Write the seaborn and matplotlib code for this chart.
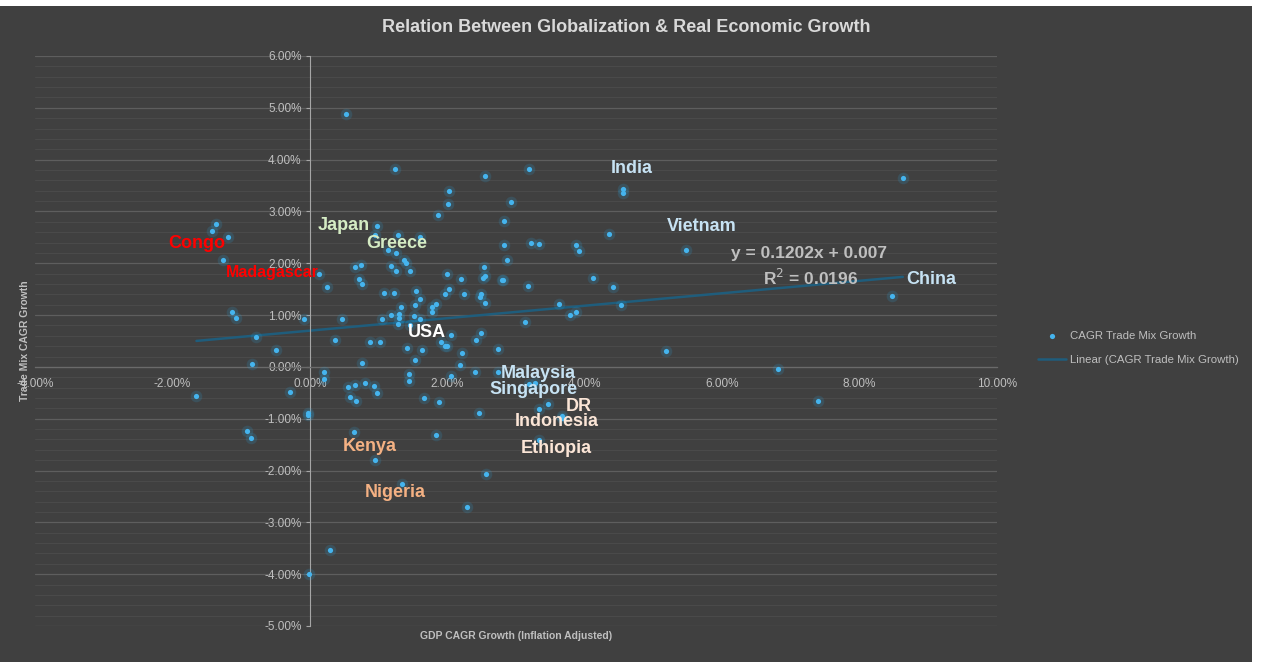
import numpy as np
import pandas as pd
import seaborn as sns
import matplotlib.pyplot as plt
from matplotlib.patches import Rectangle
from matplotlib.ticker import MultipleLocator, FuncFormatter

# === DATA (values in %) ===
gdp_cagr = [
    0.52, 1.24, 2.55, 3.19, 4.56, 4.56, 2.02, 2.01, 2.93, 1.86, 2.82, 8.63, 4.36, 5.47, 8.47,
    -1.43, -1.36, -1.19, -1.26, -1.14, -1.08, -0.78, -0.50, -0.84, -1.65, -0.29, -0.92, -0.86,
    0.98, 0.95, 1.28, 1.61, 1.14, 1.25, 1.37, 1.40, 0.66, 0.74, 1.18, 1.25, 1.46, 0.13, 0.25, 0.72,
    0.76, 1.55, 1.60, 1.08, 1.22, 1.33, 1.53, 1.78, 1.78, 1.84, 1.18, 1.30, 1.30, 1.52, 1.60, 1.05,
    0.47, -0.08, 1.28, 1.46, 0.37, 0.87, 1.02, 1.42, 1.63, 1.53, 0.76, 0.21, 0.20, 1.44, 1.44, 0.56,
    0.66, 0.80, 0.93, 0.98, 0.58, 0.67, 1.66, 1.88, -0.02, -0.02, 0.64, 1.84, 0.95, 1.34, 0.30, -0.01,
    3.22, 3.33, 2.82, 3.88, 3.91, 2.87, 2.53, 2.55, 2.52, 1.99, 2.20, 2.79, 2.81, 3.18, 4.12, 4.41,
    2.03, 1.96, 2.24, 2.49, 2.48, 2.55, 3.63, 3.79, 3.88, 4.53, 3.13, 2.06, 2.49, 2.42, 1.91, 1.97,
    2.00, 2.74, 2.21, 2.18, 2.05, 2.40, 2.74, 2.46, 3.19, 3.28, 3.34, 3.47, 3.67, 3.67, 3.34, 2.56,
    2.28, 5.18, 6.82, 7.39,
]
trade_mix_cagr = [
    4.89, 3.81, 3.69, 3.81, 3.43, 3.35, 3.40, 3.15, 3.19, 2.94, 2.81, 3.65, 2.57, 2.26, 1.36,
    2.63, 2.75, 2.50, 2.07, 1.05, 0.95, 0.57, 0.33, 0.06, -0.57, -0.48, -1.23, -1.37,
    2.71, 2.55, 2.55, 2.51, 2.26, 2.19, 2.06, 2.01, 1.92, 1.97, 1.94, 1.86, 1.86, 1.80, 1.55, 1.69,
    1.60, 1.47, 1.32, 1.43, 1.43, 1.16, 1.20, 1.15, 1.06, 1.22, 1.01, 1.03, 0.94, 0.99, 0.93, 0.93,
    0.93, 0.93, 0.82, 0.80, 0.51, 0.49, 0.49, 0.37, 0.33, 0.14, 0.08, -0.09, -0.23, -0.13, -0.28, -0.39,
    -0.35, -0.31, -0.37, -0.50, -0.58, -0.65, -0.60, -0.67, -0.89, -0.93, -1.25, -1.31, -1.79, -2.25, -3.53, -4.00,
    2.40, 2.38, 2.36, 2.36, 2.23, 2.07, 1.92, 1.76, 1.71, 1.80, 1.69, 1.67, 1.67, 1.57, 1.72, 1.55,
    1.51, 1.41, 1.40, 1.40, 1.34, 1.24, 1.22, 1.01, 1.05, 1.20, 0.86, 0.62, 0.66, 0.51, 0.49, 0.41,
    0.41, 0.35, 0.26, 0.03, -0.17, -0.09, -0.09, -0.88, -0.33, -0.32, -0.81, -0.71, -0.94, -0.98, -1.42, -2.06,
    -2.70, 0.31, -0.05, -0.66,
]

# trendline reported by the chart: y = 0.1202x + 0.007
TREND_SLOPE = 0.1202
TREND_INTERCEPT = 0.7  # in %
R_SQUARED = 0.0196

df = pd.DataFrame({"gdp": gdp_cagr, "trade": trade_mix_cagr})

# === Style ===
BG = "#404040"
TXT = "#bfbfbf"
PT = "#45b4ee"

sns.set_theme(style="dark")
plt.rcParams["font.family"] = ["Liberation Sans", "DejaVu Sans"]

W, H = 1262, 672
fig = plt.figure(figsize=(W / 100, H / 100), dpi=100)
fig.patch.set_facecolor("white")
fig.patches.append(Rectangle((0, 10 / H), 1252 / W, 656 / H, transform=fig.transFigure,
                             facecolor=BG, edgecolor="none", zorder=-10))

ax = fig.add_axes([35 / W, 46 / H, 962 / W, 570 / H])
ax.set_facecolor(BG)

# trendline
x_line = np.array([df["gdp"].min(), df["gdp"].max()])
trend = pd.DataFrame({"x": x_line, "y": TREND_SLOPE * x_line + TREND_INTERCEPT})

# glow + points
sns.scatterplot(data=df, x="gdp", y="trade", s=70, color="#2a9fd8", alpha=0.18,
                linewidth=0, legend=False, ax=ax, zorder=3)
sns.scatterplot(data=df, x="gdp", y="trade", s=14, color=PT, linewidth=0,
                label="CAGR Trade Mix Growth", ax=ax, zorder=4)
sns.lineplot(data=trend, x="x", y="y", color="#1f5d7c", linewidth=1.8,
             label="Linear (CAGR Trade Mix Growth)", ax=ax, zorder=2)

ax.set_xlim(-4, 10)
ax.set_ylim(-5, 6)
ax.xaxis.set_major_locator(MultipleLocator(2))
ax.yaxis.set_major_locator(MultipleLocator(1))
ax.yaxis.set_minor_locator(MultipleLocator(0.2))
pct = FuncFormatter(lambda v, p: f"{v:.2f}%")
ax.xaxis.set_major_formatter(pct)
ax.yaxis.set_major_formatter(pct)

ax.yaxis.grid(True, which="major", color="#5e5e5e", linewidth=0.9)
ax.yaxis.grid(True, which="minor", color="#4b4b4b", linewidth=0.7)
ax.xaxis.grid(False)

for s in ["top", "right"]:
    ax.spines[s].set_visible(False)
ax.spines["left"].set_position(("data", 0))
ax.spines["bottom"].set_position(("data", 0))
ax.spines["left"].set_color("#a6a6a6")
ax.spines["left"].set_linewidth(0.8)
ax.spines["bottom"].set_color("#6a6a6a")
ax.spines["bottom"].set_linewidth(0.9)

ax.tick_params(axis="x", length=0, pad=8, labelsize=8.5, labelcolor=TXT)
ax.tick_params(axis="y", which="major", length=3, width=0.8, color="#a6a6a6",
               pad=3, labelsize=8.5, labelcolor=TXT, left=True)
ax.tick_params(axis="y", which="minor", length=0)
ax.set_xlabel("")
ax.set_ylabel("")

# equation
ax.text(7.27, 2.18, "y = 0.1202x + 0.007", ha="center", va="center",
        fontsize=12.5, fontweight="bold", color=TXT, zorder=5)
ax.text(7.29, 1.72, f"R$^2$ = {R_SQUARED}", ha="center", va="center",
        fontsize=12.5, fontweight="bold", color=TXT, zorder=5)

# country labels
BLUE, GREEN, RED, WHITE, PEACH, SALMON = "#c6e2f3", "#d5ecc4", "#ff0000", "#ffffff", "#fbe5d6", "#f4b183"
labels = [
    ("India", 4.69, 3.82, BLUE, 13), ("Vietnam", 5.71, 2.70, BLUE, 13),
    ("China", 9.05, 1.68, BLUE, 13), ("Japan", 0.50, 2.72, GREEN, 13),
    ("Greece", 1.27, 2.39, GREEN, 13), ("Congo", -1.65, 2.39, RED, 13),
    ("Madagascar", -0.55, 1.83, RED, 11.5), ("USA", 1.71, 0.66, WHITE, 13),
    ("Malaysia", 3.32, -0.12, BLUE, 13), ("Singapore", 3.25, -0.44, BLUE, 13),
    ("DR", 3.92, -0.77, PEACH, 13), ("Indonesia", 3.60, -1.06, PEACH, 13),
    ("Ethiopia", 3.59, -1.58, PEACH, 13), ("Kenya", 0.87, -1.54, SALMON, 13),
    ("Nigeria", 1.25, -2.43, SALMON, 13),
]
for name, lx, ly, c, fs in labels:
    ax.text(lx, ly, name, ha="center", va="center", fontsize=fs,
            fontweight="bold", color=c, zorder=6)

# titles
fig.text(626 / W, 1 - 28 / H, "Relation Between Globalization & Real Economic Growth",
         ha="center", va="center", fontsize=13, fontweight="bold", color="#d9d9d9")
fig.text(516 / W, 1 - 636 / H, "GDP CAGR Growth (Inflation Adjusted)",
         ha="center", va="center", fontsize=7.5, fontweight="bold", color=TXT)
fig.text(25 / W, 1 - 341 / H, "Trade Mix CAGR Growth", rotation=90,
         ha="center", va="center", fontsize=7.5, fontweight="bold", color=TXT)

leg = ax.legend(loc="upper left", bbox_to_anchor=(1038 / W, 1 - 331 / H),
                bbox_transform=fig.transFigure, frameon=False, fontsize=8.2,
                labelcolor=TXT, handlelength=2.5, handletextpad=0.3,
                borderpad=0, borderaxespad=0, labelspacing=1.2)

fig.savefig("out.png", dpi=100, facecolor=fig.get_facecolor())
